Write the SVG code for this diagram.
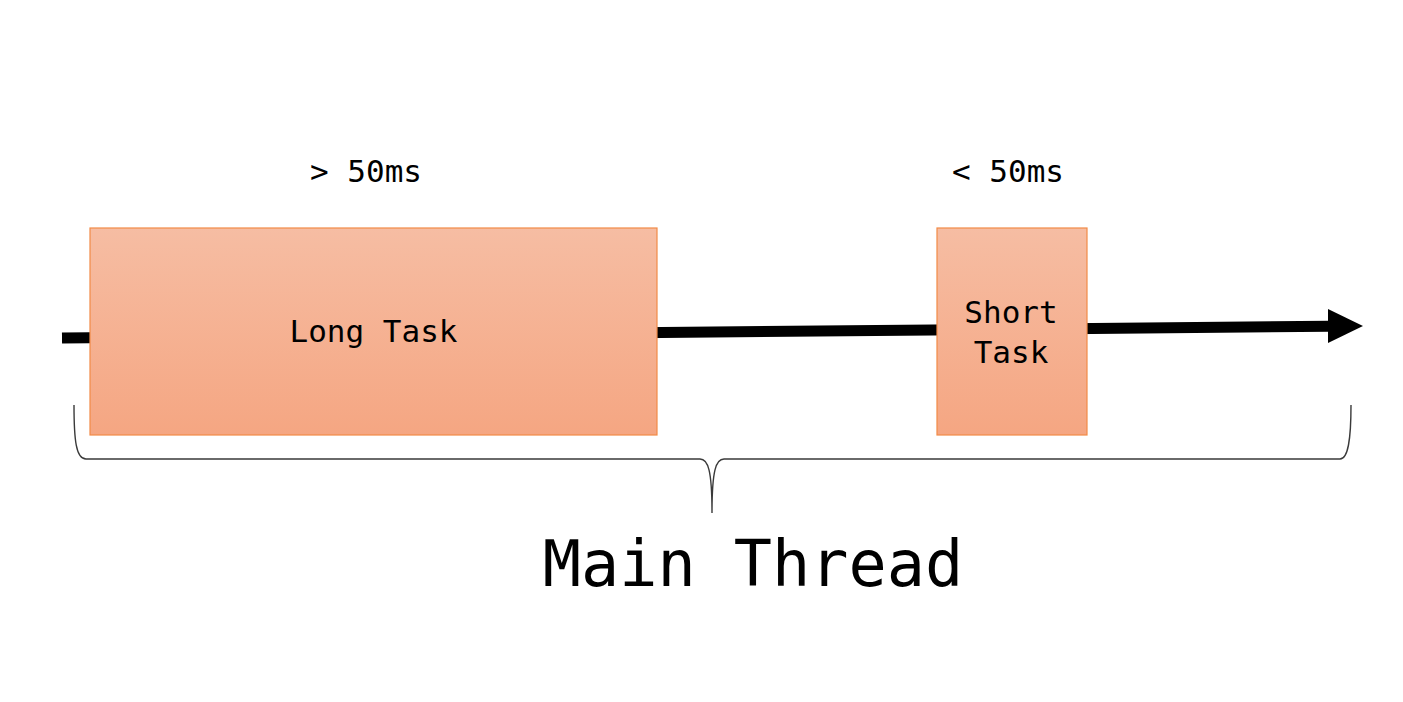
<svg xmlns="http://www.w3.org/2000/svg" width="1403" height="702" viewBox="0 0 1403 702">
<style>
.task{stroke:#F28A46;stroke-width:1.2;fill:url(#g)}
.lbl{font-family:"DejaVu Sans Mono","Liberation Mono",monospace;font-size:31px;fill:#000;text-anchor:middle}
.big{font-family:"DejaVu Sans Mono","Liberation Mono",monospace;font-size:63.5px;fill:#000;text-anchor:middle}
.brace{fill:none;stroke:#3a3a3a;stroke-width:1.4}
</style>
<defs>
<linearGradient id="g" x1="0" y1="0" x2="0" y2="1">
<stop offset="0" stop-color="#F6BDA3"/>
<stop offset="1" stop-color="#F5A682"/>
</linearGradient>
</defs>
<rect width="1403" height="702" fill="#fff"/>
<g id="connectors">
<line x1="62" y1="338" x2="1330" y2="326.3" stroke="#000" stroke-width="11"/>
<polygon points="1328,309 1363,326 1328,343" fill="#000"/>
</g>
<g id="long-task">
<rect class="task" x="90" y="228" width="567" height="207"/>
<text class="lbl" x="373.5" y="342">Long Task</text>
</g>
<g id="short-task">
<rect class="task" x="937" y="228" width="150" height="207"/>
<text class="lbl" x="1011" y="323">Short</text>
<text class="lbl" x="1011" y="363">Task</text>
</g>
<g id="labels">
<text class="lbl" x="366" y="182">&gt; 50ms</text>
<text class="lbl" x="1008" y="182">&lt; 50ms</text>
</g>
<g id="brace">
<path class="brace" d="M74,405 C74,440 76,459 86,459 L700,459 C708,459 712,470 712,513 C712,470 716,459 724,459 L1340,459 C1348,459 1351,440 1351,405"/>
</g>
<g id="main-thread">
<text class="big" x="753" y="586">Main Thread</text>
</g>
</svg>
